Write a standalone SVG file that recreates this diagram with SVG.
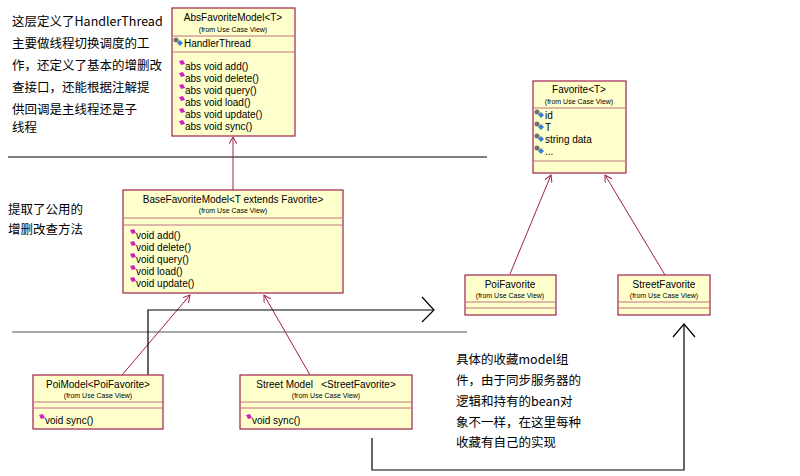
<svg xmlns="http://www.w3.org/2000/svg" width="800" height="476" viewBox="0 0 800 476">
<style>
.box{fill:#ffffcc;stroke:#a0204a;stroke-width:1.2}
.sep{stroke:#c07080;stroke-width:1}
.t{font-family:"Liberation Sans",Arial,sans-serif;font-size:10px;fill:#000}
.s{font-family:"Liberation Sans",Arial,sans-serif;font-size:7px;fill:#000}
.c{font-family:"Noto Sans CJK SC","Liberation Sans",sans-serif;font-size:12.5px;fill:#000}
.uml{stroke:#a0204a;stroke-width:1;fill:none}
.blk{stroke:#000;stroke-width:1.2;fill:none}
.ic{fill:#d020c0}
.ia{fill:#3a80d0}
</style>
<defs>
<marker id="oa" markerWidth="8" markerHeight="8" refX="7" refY="4" orient="auto" markerUnits="userSpaceOnUse"><path d="M0,0 L7,4 L0,8" fill="none" stroke="#a0204a" stroke-width="1"/></marker>
<g id="m"><path d="M0,-3 L4,-4 L6,0 L2,1 Z" class="ic"/></g>
<g id="a"><circle cx="2" cy="-3" r="2.5" fill="#707070"/><path d="M3,0 L6,-3 L9,0 L6,3 Z" class="ia"/></g>
</defs>
<g id="notes">
<text class="c" x="12" y="26">这层定义了HandlerThread</text>
<text class="c" x="12" y="48">主要做线程切换调度的工</text>
<text class="c" x="12" y="70">作，还定义了基本的增删改</text>
<text class="c" x="12" y="92">查接口，还能根据注解提</text>
<text class="c" x="12" y="114">供回调是主线程还是子</text>
<text class="c" x="12" y="132">线程</text>
<text class="c" x="8" y="214">提取了公用的</text>
<text class="c" x="8" y="234">增删改查方法</text>
<text class="c" x="456" y="364">具体的收藏model组</text>
<text class="c" x="456" y="385">件，由于同步服务器的</text>
<text class="c" x="456" y="406">逻辑和持有的bean对</text>
<text class="c" x="456" y="427">象不一样，在这里每种</text>
<text class="c" x="456" y="447">收藏有自己的实现</text>
</g>
<g id="connectors">
<line x1="8" y1="157" x2="487" y2="157" stroke="#000" stroke-width="1"/>
<line x1="12" y1="332" x2="467" y2="332" stroke="#555" stroke-width="1"/>
<line class="uml" x1="233" y1="190" x2="233" y2="137" marker-end="url(#oa)"/>
<line class="uml" x1="510" y1="274" x2="551" y2="175" marker-end="url(#oa)"/>
<line class="uml" x1="665" y1="275" x2="605" y2="175" marker-end="url(#oa)"/>
<line class="uml" x1="122" y1="375" x2="190" y2="295" marker-end="url(#oa)"/>
<line class="uml" x1="310" y1="375" x2="264" y2="295" marker-end="url(#oa)"/>
<path class="blk" d="M148,377 V310 H434"/>
<path class="blk" d="M422,297 L434,310 L422,322"/>
<path class="blk" d="M372,438 V470 H684 V324"/>
<path class="blk" d="M673,337 L684,324 L695,337"/>
</g>
<g id="AbsFavoriteModel">
<rect class="box" x="172" y="8" width="123" height="128"/>
<text class="t" x="233" y="21" text-anchor="middle">AbsFavoriteModel&lt;T&gt;</text>
<text class="s" x="233" y="32" text-anchor="middle">(from Use Case View)</text>
<line class="sep" x1="172" y1="36" x2="295" y2="36"/>
<use href="#a" x="174" y="43"/><text class="t" x="184" y="47">HandlerThread</text>
<line class="sep" x1="172" y1="52" x2="295" y2="52"/>
<use href="#m" x="179" y="64"/><text class="t" x="185" y="70">abs void add()</text>
<use href="#m" x="179" y="76"/><text class="t" x="185" y="82">abs void delete()</text>
<use href="#m" x="179" y="88"/><text class="t" x="185" y="94">abs void query()</text>
<use href="#m" x="179" y="100"/><text class="t" x="185" y="106">abs void load()</text>
<use href="#m" x="179" y="112"/><text class="t" x="185" y="118">abs void update()</text>
<use href="#m" x="179" y="124"/><text class="t" x="185" y="130">abs void sync()</text>
</g>
<g id="BaseFavoriteModel">
<rect class="box" x="123" y="190" width="220" height="103"/>
<text class="t" x="233" y="203" text-anchor="middle">BaseFavoriteModel&lt;T extends Favorite&gt;</text>
<text class="s" x="233" y="213" text-anchor="middle">(from Use Case View)</text>
<line class="sep" x1="123" y1="218" x2="343" y2="218"/>
<line class="sep" x1="123" y1="225" x2="343" y2="225"/>
<use href="#m" x="130" y="233"/><text class="t" x="136" y="239">void add()</text>
<use href="#m" x="130" y="245"/><text class="t" x="136" y="251">void delete()</text>
<use href="#m" x="130" y="257"/><text class="t" x="136" y="263">void query()</text>
<use href="#m" x="130" y="269"/><text class="t" x="136" y="275">void load()</text>
<use href="#m" x="130" y="281"/><text class="t" x="136" y="287">void update()</text>
</g>
<g id="Favorite">
<rect class="box" x="533" y="81" width="93" height="92"/>
<text class="t" x="579" y="93" text-anchor="middle">Favorite&lt;T&gt;</text>
<text class="s" x="579" y="104" text-anchor="middle">(from Use Case View)</text>
<line class="sep" x1="533" y1="108" x2="626" y2="108"/>
<use href="#a" x="535" y="115"/><text class="t" x="545" y="119">id</text>
<use href="#a" x="535" y="127"/><text class="t" x="545" y="131">T</text>
<use href="#a" x="535" y="139"/><text class="t" x="545" y="143">string data</text>
<use href="#a" x="535" y="151"/><text class="t" x="545" y="155">...</text>
<line class="sep" x1="533" y1="161" x2="626" y2="161"/>
</g>
<g id="PoiFavorite">
<rect class="box" x="465" y="275" width="91" height="40"/>
<text class="t" x="510" y="288" text-anchor="middle">PoiFavorite</text>
<text class="s" x="510" y="298" text-anchor="middle">(from Use Case View)</text>
<line class="sep" x1="465" y1="302" x2="556" y2="302"/>
<line class="sep" x1="465" y1="308" x2="556" y2="308"/>
</g>
<g id="StreetFavorite">
<rect class="box" x="618" y="275" width="92" height="40"/>
<text class="t" x="664" y="288" text-anchor="middle">StreetFavorite</text>
<text class="s" x="664" y="298" text-anchor="middle">(from Use Case View)</text>
<line class="sep" x1="618" y1="302" x2="710" y2="302"/>
<line class="sep" x1="618" y1="308" x2="710" y2="308"/>
</g>
<g id="PoiModel">
<rect class="box" x="33" y="375" width="130" height="54"/>
<text class="t" x="98" y="388" text-anchor="middle">PoiModel&lt;PoiFavorite&gt;</text>
<text class="s" x="98" y="398" text-anchor="middle">(from Use Case View)</text>
<line class="sep" x1="33" y1="402" x2="163" y2="402"/>
<line class="sep" x1="33" y1="408" x2="163" y2="408"/>
<use href="#m" x="39" y="418"/><text class="t" x="45" y="424">void sync()</text>
</g>
<g id="StreetModel">
<rect class="box" x="240" y="375" width="172" height="54"/>
<text class="t" x="326" y="388" text-anchor="middle" xml:space="preserve">Street Model   &lt;StreetFavorite&gt;</text>
<text class="s" x="326" y="398" text-anchor="middle">(from Use Case View)</text>
<line class="sep" x1="240" y1="402" x2="412" y2="402"/>
<line class="sep" x1="240" y1="408" x2="412" y2="408"/>
<use href="#m" x="246" y="418"/><text class="t" x="252" y="424">void sync()</text>
</g>
</svg>
